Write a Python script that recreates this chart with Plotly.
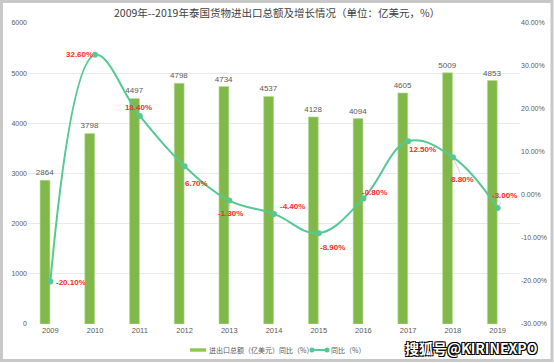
import plotly.graph_objects as go

# ---- data ----
years = ["2009", "2010", "2011", "2012", "2013", "2014", "2015", "2016", "2017", "2018", "2019"]
trade_total = [2864, 3798, 4497, 4798, 4734, 4537, 4128, 4094, 4605, 5009, 4853]
yoy_growth = [-20.10, 32.60, 18.40, 6.70, -1.30, -4.40, -8.90, -0.80, 12.50, 8.80, -3.00]
left_ticks = [0, 1000, 2000, 3000, 4000, 5000, 6000]
right_ticks = [-30, -20, -10, 0, 10, 20, 30, 40]

title_text = "2009年--2019年泰国货物进出口总额及增长情况（单位：亿美元，%）"
bar_name = "进出口总额（亿美元）"
ghost_name = "同比（%）"
line_name = "同比（%）"

# ---- style / placement (pixel offsets of % labels: dx, dy(down), leader) ----
label_offsets = [(21, 1, False), (-16, 0, False), (-1, -8, False), (12, 17, False),
                 (1, 13, True), (18, -7, True), (14, 14, False), (11, -6, False),
                 (14, 8, False), (10, 22, True), (7, -12, True)]

W, H = 554, 363
ML, MR, MT, MB = 28, 34, 23, 39
FONT = "Liberation Sans, Noto Sans CJK SC, sans-serif"
CJK = "Noto Sans CJK SC, Liberation Sans, sans-serif"
BAR_COLOR = "#80b94a"
LINE_COLOR = "#55c993"
PCT_COLOR = "#ff2b2b"

pw = W - ML - MR
ph = H - MT - MB


def px2x(p):
    return (p - ML) / pw


def px2y(p):
    return (H - MB - p) / ph


fig = go.Figure()

fig.add_trace(go.Bar(
    x=years, y=trade_total, name=bar_name,
    width=0.22, offset=-0.23,
    marker=dict(color=BAR_COLOR, line=dict(color="#b9dc93", width=0.6)),
    text=[str(v) for v in trade_total], textposition="outside",
    constraintext="none",
    textfont=dict(size=8, color="#595959", family=FONT),
    cliponaxis=False, hoverinfo="x+y",
))
# empty "同比" bar series (invisible)
fig.add_trace(go.Bar(
    x=years, y=[0] * len(years), yaxis="y2", name=ghost_name,
    width=0.22, offset=0.01,
    marker=dict(color="rgba(0,0,0,0)", line=dict(width=0)),
    hoverinfo="skip",
))
fig.add_trace(go.Scatter(
    x=years, y=yoy_growth, yaxis="y2", name=line_name,
    mode="lines+markers",
    line=dict(color=LINE_COLOR, width=2, shape="spline", smoothing=1.1),
    marker=dict(color=LINE_COLOR, size=6),
    cliponaxis=False,
))

annotations = []
for i, (v, (dx, dy, leader)) in enumerate(zip(yoy_growth, label_offsets)):
    txt = f"{v:.2f}%"
    common = dict(x=i, y=v, xref="x", yref="y2", text=txt,
                  xanchor="center", yanchor="middle",
                  font=dict(size=8, color=PCT_COLOR, family=FONT, weight="bold"))
    if leader:
        annotations.append(dict(common, showarrow=True, ax=dx, ay=dy, arrowhead=0,
                                arrowwidth=0.7, arrowcolor="#bfbfbf", standoff=3))
    else:
        annotations.append(dict(common, showarrow=False, xshift=dx, yshift=-dy))

annotations.append(dict(
    x=px2x(277), y=px2y(12), xref="paper", yref="paper", text=title_text,
    showarrow=False, xanchor="center", yanchor="middle",
    font=dict(size=10.5, color="#404040", family=CJK),
))

# manual legend
legend_font = dict(size=7, color="#595959", family=CJK)
for label, xpx in [(bar_name, 207), (ghost_name, 277), (line_name, 329)]:
    annotations.append(dict(
        x=px2x(xpx), y=px2y(350), xref="paper", yref="paper", text=label,
        showarrow=False, xanchor="left", yanchor="middle", font=legend_font,
    ))

annotations.append(dict(
    x=px2x(471), y=px2y(348), xref="paper", yref="paper", text="搜狐号@KIRINEXPO",
    showarrow=False, xanchor="center", yanchor="middle",
    font=dict(size=14, color="white", family=CJK, weight="bold",
              shadow="1px 1px 0 #000, -1px -1px 0 #000, 1px -1px 0 #000, -1px 1px 0 #000"),
))

shapes = [
    dict(type="rect", xref="paper", yref="paper",
         x0=px2x(1.5), x1=px2x(552), y0=px2y(1.5), y1=px2y(360.5),
         line=dict(color="#c8c8c8", width=3), layer="below"),
    dict(type="rect", xref="paper", yref="paper",
         x0=px2x(190), x1=px2x(206), y0=px2y(348.3), y1=px2y(351.7),
         fillcolor="#8cc84b", line=dict(width=0)),
    dict(type="line", xref="paper", yref="paper",
         x0=px2x(312), x1=px2x(327), y0=px2y(350), y1=px2y(350),
         line=dict(color=LINE_COLOR, width=2)),
]
for cx in (312, 327):
    shapes.append(dict(type="circle", xref="paper", yref="paper",
                       x0=px2x(cx - 2.5), x1=px2x(cx + 2.5),
                       y0=px2y(350 - 2.5), y1=px2y(350 + 2.5),
                       fillcolor=LINE_COLOR, line=dict(width=0)))

fig.update_layout(
    width=W, height=H,
    margin=dict(l=ML, r=MR, t=MT, b=MB, autoexpand=False),
    paper_bgcolor="white", plot_bgcolor="white",
    barmode="overlay",
    font=dict(family=FONT, size=8, color="#595959"),
    showlegend=False,
    xaxis=dict(type="category", range=[-0.5, 10.5], showgrid=False, zeroline=False,
               showline=False, ticks="", tickfont=dict(size=7.5, color="#595959")),
    yaxis=dict(range=[0, 6000], tickvals=left_ticks, showgrid=True, gridcolor="#e9e9e9",
               gridwidth=1, zeroline=False, showline=False, ticks="",
               tickfont=dict(size=7, color="#595959")),
    yaxis2=dict(overlaying="y", side="right", range=[-30, 40], tickvals=right_ticks,
                ticktext=[f"{t:.2f}%" for t in right_ticks], showgrid=False,
                zeroline=False, showline=False, ticks="",
                tickfont=dict(size=7, color="#595959")),
    annotations=annotations,
    shapes=shapes,
)

fig.write_html("out.html", config={"displayModeBar": False},
               post_script="document.body.style.margin='0px';")
